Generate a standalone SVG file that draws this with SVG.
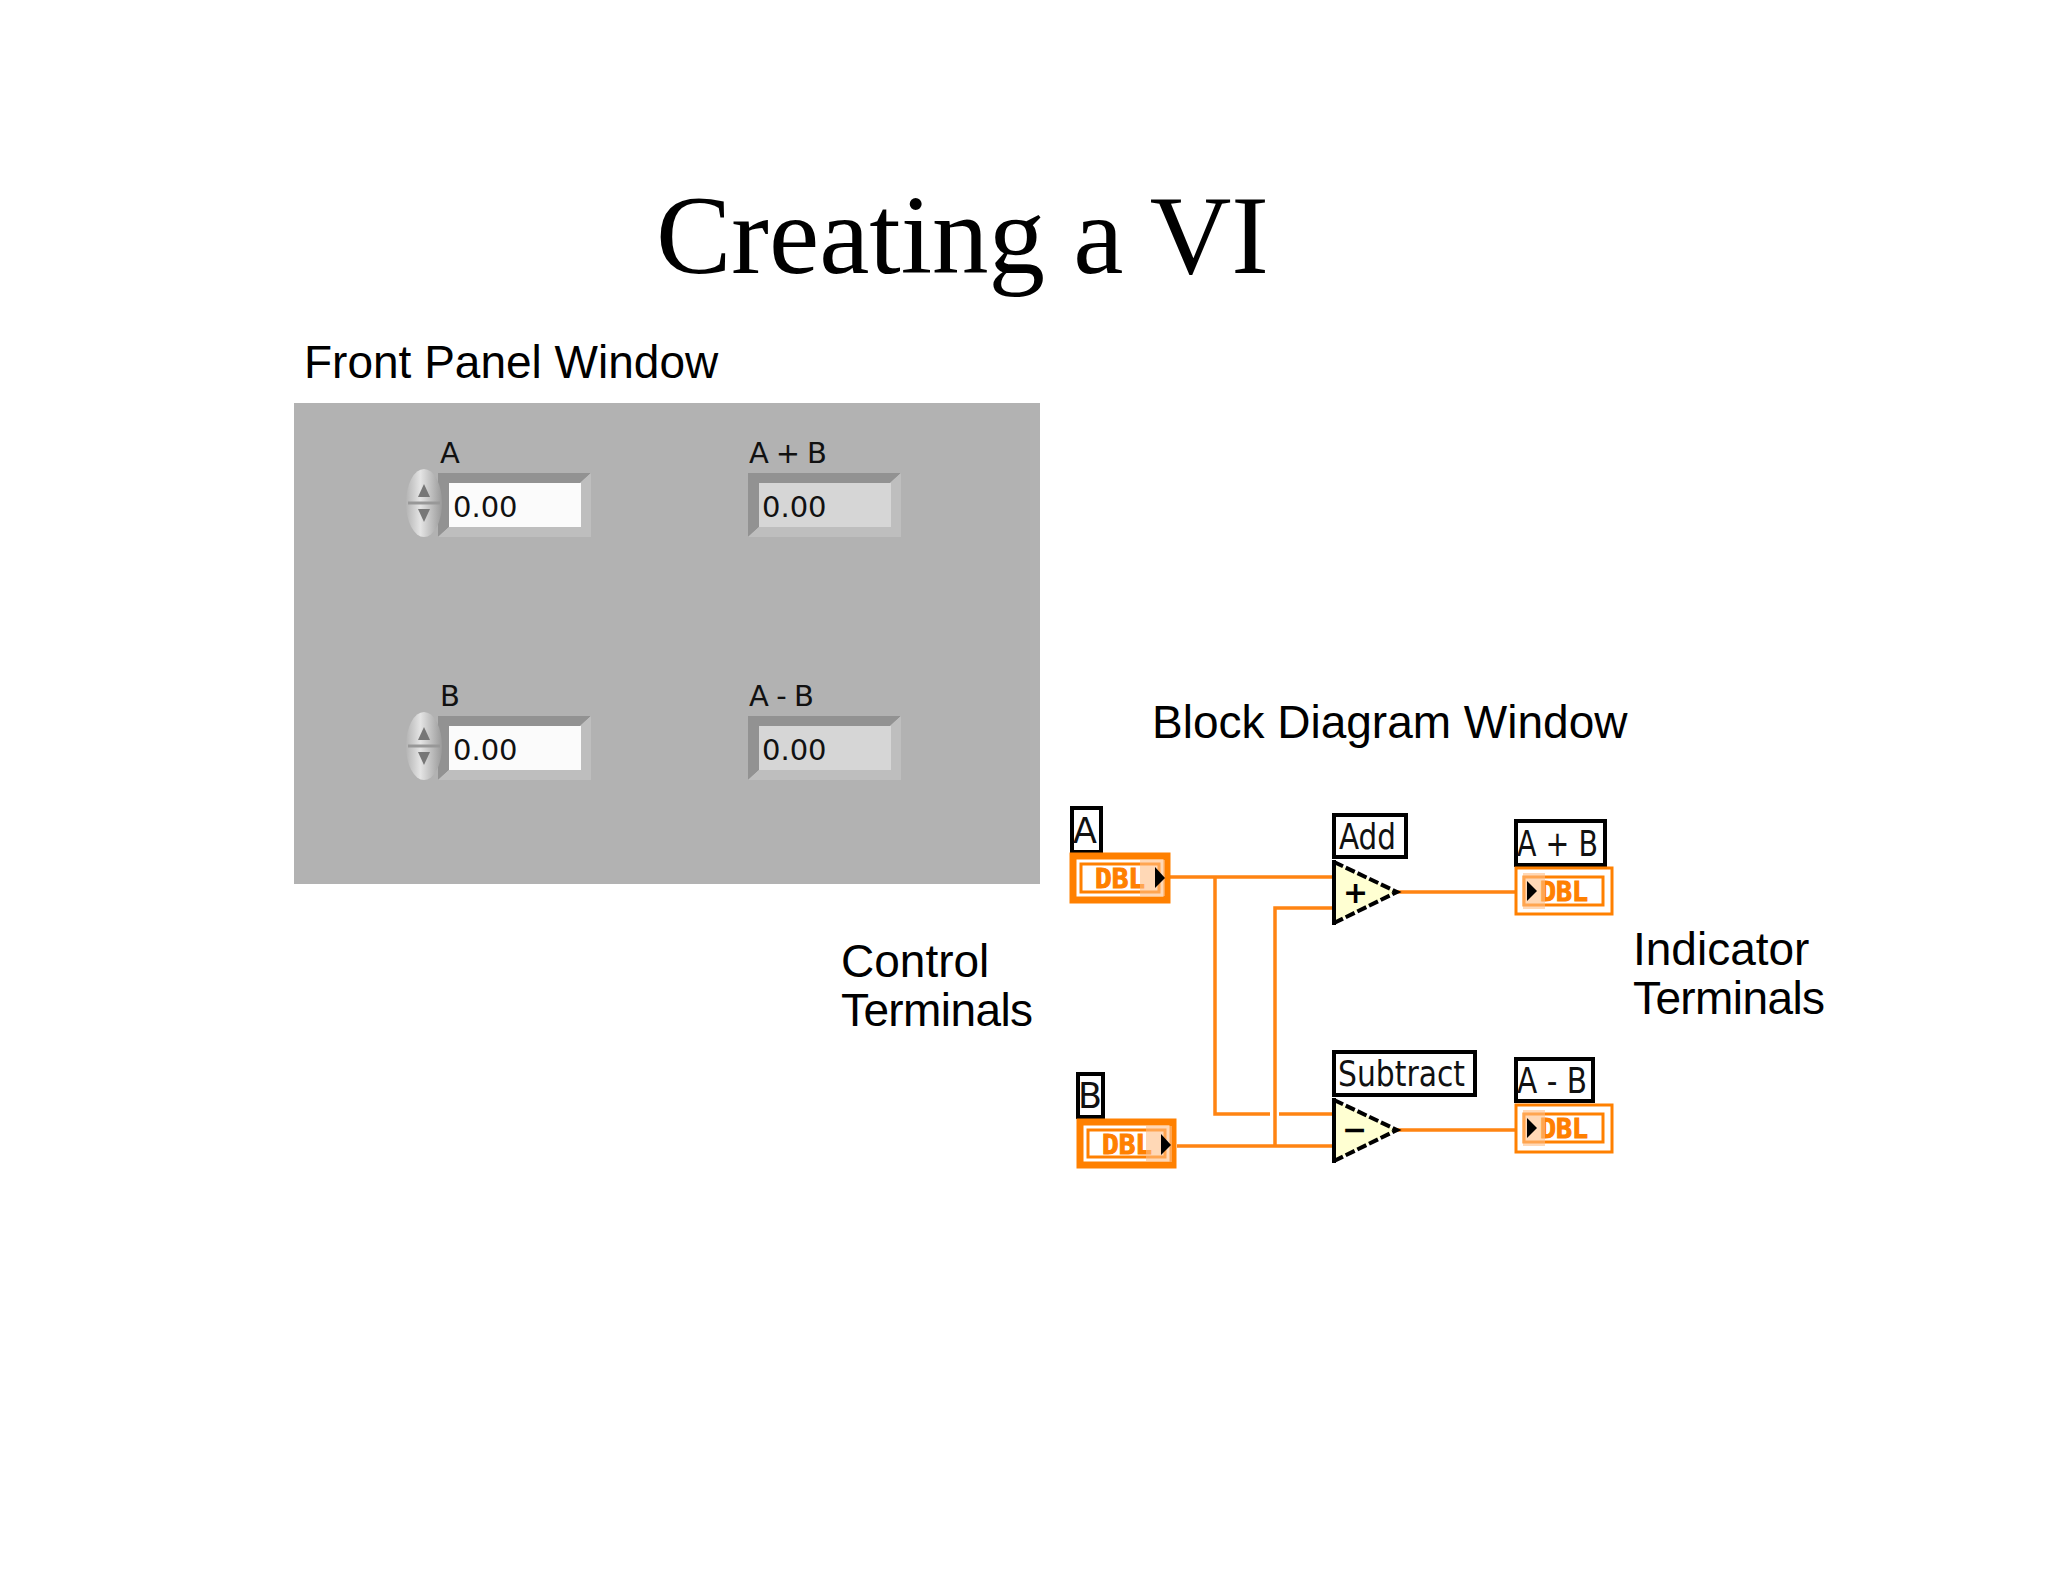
<svg xmlns="http://www.w3.org/2000/svg" width="2048" height="1582" viewBox="0 0 2048 1582">
<style>
.ar{font-family:"Liberation Sans",Arial,sans-serif;font-size:46px;fill:#000}
.px{font-family:"DejaVu Sans",sans-serif;fill:#111}
.fp{font-size:29px}
.bd{font-size:35px}
.dbl{font-family:"DejaVu Sans Mono",monospace;font-weight:bold;font-size:27px;fill:#ff8000;stroke:#ff8000;stroke-width:1}
.lbl{fill:#fff;stroke:#000;stroke-width:4}
.wire{fill:none;stroke:#ff8412;stroke-width:3.5}
.tri{fill:#ffffd2}
.edge{fill:none;stroke:#000;stroke-width:4}
.dash{stroke-dasharray:10 3}
.hl{fill:#ffbe85;fill-opacity:.6}
.io{fill:none;stroke:#ff8000}
.well{fill:#fbfbfb}
.ind{fill:#d6d6d6}
</style>
<defs>
<linearGradient id="spin" x1="0" y1="0" x2="1" y2="0"><stop offset="0" stop-color="#b4b4b4"/><stop offset=".4" stop-color="#e4e4e4"/><stop offset="1" stop-color="#9a9a9a"/></linearGradient>
<g id="frame">
<rect x="0" y="0" width="153" height="64" fill="#c0c0c0"/>
<polygon points="0,0 153,0 142,10 11,10 11,54 0,64" fill="#929292"/>
<polygon points="0,64 11,54 142,54 142,10 153,0 153,64" fill="#bebebe"/>
</g>
<g id="spinner">
<ellipse cx="0" cy="33" rx="18" ry="34" fill="url(#spin)"/>
<line x1="-16" y1="33" x2="16" y2="33" stroke="#989898" stroke-width="3"/>
<polygon points="0,14 -6,27 6,27" fill="#777"/>
<polygon points="0,52 -6,39 6,39" fill="#777"/>
</g>
</defs>
<rect width="2048" height="1582" fill="#fff"/>
<text x="656" y="273" font-family="'Liberation Serif','Times New Roman',serif" font-size="113" fill="#000">Creating a VI</text>
<text class="ar" x="304" y="378">Front Panel Window</text>
<text class="ar" x="1152" y="738">Block Diagram Window</text>
<text class="ar" x="841" y="977">Control</text>
<text class="ar" x="841" y="1026" textLength="192">Terminals</text>
<text class="ar" x="1633" y="965">Indicator</text>
<text class="ar" x="1633" y="1014" textLength="192">Terminals</text>
<rect id="panel" x="294" y="403" width="746" height="481" fill="#b2b2b2"/>
<g id="control-a">
<use href="#frame" x="438" y="473"/><rect class="well" x="449" y="483" width="132" height="44"/>
<use href="#spinner" x="424" y="470"/>
<text class="px fp" x="440" y="463">A</text><text class="px fp" x="453" y="517">0.00</text>
</g>
<g id="control-b">
<use href="#frame" x="438" y="716"/><rect class="well" x="449" y="726" width="132" height="44"/>
<use href="#spinner" x="424" y="713"/>
<text class="px fp" x="440" y="706">B</text><text class="px fp" x="453" y="760">0.00</text>
</g>
<g id="indicator-sum">
<use href="#frame" x="748" y="473"/><rect class="ind" x="759" y="483" width="132" height="44"/>
<text class="px fp" x="749" y="463" textLength="78">A + B</text><text class="px fp" x="762" y="517">0.00</text>
</g>
<g id="indicator-diff">
<use href="#frame" x="748" y="716"/><rect class="ind" x="759" y="726" width="132" height="44"/>
<text class="px fp" x="749" y="706" textLength="65">A - B</text><text class="px fp" x="762" y="760">0.00</text>
</g>
<g id="connectors">
<path class="wire" d="M1170 877H1333M1215 877V1114H1270M1279 1114H1333M1333 908H1275V1146M1177 1146H1333"/>
<path class="wire" d="M1397 892H1515M1397 1130H1515"/>
</g>
<g id="term-a">
<rect class="lbl" x="1072" y="808" width="29" height="44"/>
<text class="px bd" x="1073" y="843" textLength="22">A</text>
<rect x="1073" y="856" width="94" height="44" fill="#fff" stroke="#ff8000" stroke-width="7"/>
<rect class="io" x="1081" y="864" width="78" height="28" stroke-width="3"/>
<text class="dbl" x="1095" y="888" textLength="50" lengthAdjust="spacingAndGlyphs">DBL</text>
<rect class="hl" x="1140" y="860" width="25" height="36"/>
<polygon points="1155,867 1155,888 1165,878" fill="#000"/>
</g>
<g id="term-b">
<rect class="lbl" x="1078" y="1074" width="25" height="43"/>
<text class="px bd" x="1078" y="1108">B</text>
<rect x="1080" y="1122" width="93" height="43" fill="#fff" stroke="#ff8000" stroke-width="7"/>
<rect class="io" x="1088" y="1130" width="77" height="27" stroke-width="3"/>
<text class="dbl" x="1102" y="1154" textLength="50" lengthAdjust="spacingAndGlyphs">DBL</text>
<rect class="hl" x="1146" y="1126" width="26" height="36"/>
<polygon points="1161,1134 1161,1155 1171,1145" fill="#000"/>
</g>
<g id="add">
<rect class="lbl" x="1334" y="815" width="72" height="42"/>
<text class="px bd" x="1339" y="849" textLength="57" lengthAdjust="spacingAndGlyphs">Add</text>
<polygon class="tri" points="1334,862 1397,892 1334,923"/>
<path class="edge dash" d="M1334 862L1397 892L1334 923"/>
<path class="edge" d="M1334 860V925"/>
<text x="1343" y="903" font-family="'DejaVu Sans',sans-serif" font-size="30" font-weight="bold" fill="#000">+</text>
</g>
<g id="subtract">
<rect class="lbl" x="1334" y="1052" width="141" height="43"/>
<text class="px bd" x="1338" y="1086" textLength="127" lengthAdjust="spacingAndGlyphs">Subtract</text>
<polygon class="tri" points="1334,1100 1397,1130 1334,1161"/>
<path class="edge dash" d="M1334 1100L1397 1130L1334 1161"/>
<path class="edge" d="M1334 1098V1163"/>
<text x="1342" y="1140" font-family="'DejaVu Sans',sans-serif" font-size="30" font-weight="bold" fill="#000">−</text>
</g>
<g id="ind-sum">
<rect class="lbl" x="1516" y="821" width="89" height="44"/>
<text class="px bd" x="1517" y="856" textLength="81" lengthAdjust="spacingAndGlyphs">A + B</text>
<rect class="io" x="1516" y="868" width="96" height="46" stroke-width="3"/>
<rect class="io" x="1524" y="877" width="79" height="28" stroke-width="3"/>
<text class="dbl" x="1540" y="901" textLength="48" lengthAdjust="spacingAndGlyphs">DBL</text>
<rect class="hl" x="1523" y="873" width="22" height="36"/>
<polygon points="1527,881 1527,901 1537,891" fill="#000"/>
</g>
<g id="ind-diff">
<rect class="lbl" x="1516" y="1059" width="77" height="42"/>
<text class="px bd" x="1517" y="1093" textLength="70" lengthAdjust="spacingAndGlyphs">A - B</text>
<rect class="io" x="1516" y="1105" width="96" height="47" stroke-width="3"/>
<rect class="io" x="1524" y="1114" width="79" height="28" stroke-width="3"/>
<text class="dbl" x="1540" y="1138" textLength="48" lengthAdjust="spacingAndGlyphs">DBL</text>
<rect class="hl" x="1523" y="1110" width="22" height="36"/>
<polygon points="1527,1118 1527,1138 1537,1128" fill="#000"/>
</g>
</svg>
